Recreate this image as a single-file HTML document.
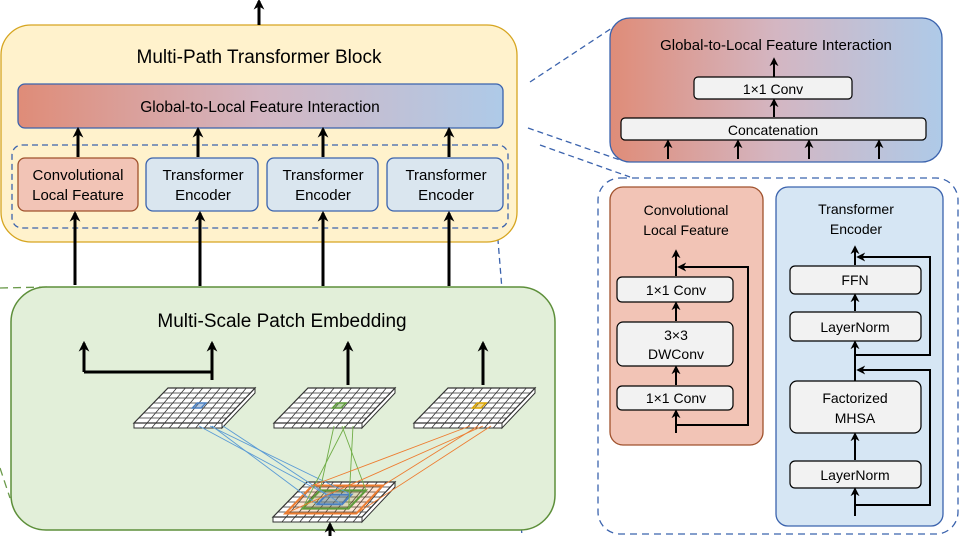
<!DOCTYPE html>
<html><head><meta charset="utf-8"><style>
body{margin:0;background:#fff}
svg{display:block;font-family:"Liberation Sans",sans-serif}
</style></head><body>
<svg id="s" width="963" height="536" viewBox="0 0 963 536" xmlns="http://www.w3.org/2000/svg">
<defs>
<marker id="a" viewBox="0 0 10 10" refX="8" refY="5" markerWidth="3.6" markerHeight="3.6" orient="auto"><path d="M0,0 L10,5 L0,10 L3,5 z" fill="#000"/></marker>
<marker id="b" viewBox="0 0 10 10" refX="8" refY="5" markerWidth="4.5" markerHeight="4.5" orient="auto"><path d="M0,0 L10,5 L0,10 L3,5 z" fill="#000"/></marker>
<linearGradient id="g" x1="0" x2="1"><stop offset="0" stop-color="#df8c78"/><stop offset="0.5" stop-color="#d4b6c2"/><stop offset="1" stop-color="#aecae8"/></linearGradient>
</defs>
<g stroke="#3b63ad" stroke-width="1.3" stroke-dasharray="6,4" fill="none">
<line x1="530" y1="82" x2="612" y2="28"/>
<line x1="528" y1="128" x2="620" y2="160"/>
<line x1="540" y1="145" x2="630" y2="177"/>
<line x1="497" y1="228" x2="522" y2="536"/>
</g>
<g stroke="#6a9a4a" stroke-width="1.3" stroke-dasharray="8,5" fill="none">
<line x1="0" y1="288" x2="48" y2="287"/>
<line x1="0" y1="468" x2="10" y2="498"/>
</g>
<rect x="1" y="25" width="516" height="217" rx="30" fill="#fff2cc" stroke="#d6a520" stroke-width="1.3"/>
<text x="259" y="63" font-size="19" text-anchor="middle">Multi-Path Transformer Block</text>
<rect x="18" y="84" width="485" height="44" rx="7" fill="url(#g)" stroke="#3b63ad" stroke-width="1.3"/>
<text x="260" y="112" font-size="15.5" text-anchor="middle">Global-to-Local Feature Interaction</text>
<rect x="12" y="145" width="496" height="83" rx="10" fill="none" stroke="#3b63ad" stroke-width="1.3" stroke-dasharray="6,4"/>
<rect x="18" y="158" width="120" height="53" rx="7" fill="#f2c4b6" stroke="#a0522d" stroke-width="1.3"/>
<rect x="146" y="158" width="112" height="53" rx="7" fill="#dae6ef" stroke="#3b63ad" stroke-width="1.3"/>
<rect x="267" y="158" width="111" height="53" rx="7" fill="#dae6ef" stroke="#3b63ad" stroke-width="1.3"/>
<rect x="387" y="158" width="116" height="53" rx="7" fill="#dae6ef" stroke="#3b63ad" stroke-width="1.3"/>
<g font-size="15" text-anchor="middle">
<text x="78" y="180">Convolutional</text><text x="78" y="200">Local Feature</text>
<text x="203" y="180">Transformer</text><text x="203" y="200">Encoder</text>
<text x="323" y="180">Transformer</text><text x="323" y="200">Encoder</text>
<text x="446" y="180">Transformer</text><text x="446" y="200">Encoder</text>
</g>
<g stroke="#000" stroke-width="3" fill="none" marker-end="url(#a)">
<line x1="259" y1="25" x2="259" y2="1"/>
<line x1="78" y1="157" x2="78" y2="129"/>
<line x1="198" y1="157" x2="198" y2="129"/>
<line x1="323" y1="157" x2="323" y2="129"/>
<line x1="449" y1="157" x2="449" y2="129"/>
<line x1="75" y1="285" x2="75" y2="213"/>
<line x1="200" y1="286" x2="200" y2="213"/>
<line x1="323" y1="286" x2="323" y2="213"/>
<line x1="449" y1="286" x2="449" y2="213"/>
</g>
<rect x="11" y="287" width="544" height="243" rx="35" fill="#e2efd9" stroke="#5d8f3a" stroke-width="1.5"/>
<text x="282" y="327" font-size="19" text-anchor="middle">Multi-Scale Patch Embedding</text>
<g id="grids"></g>
<g stroke="#000" stroke-width="3" fill="none">
<polyline points="212,380 212,372 84,372" />
<line x1="84" y1="372" x2="84" y2="343" marker-end="url(#a)"/>
<line x1="212" y1="372" x2="212" y2="343" marker-end="url(#a)"/>
<line x1="348" y1="385" x2="348" y2="343" marker-end="url(#a)"/>
<line x1="483" y1="385" x2="483" y2="343" marker-end="url(#a)"/>
<line x1="330" y1="536" x2="330" y2="524" marker-end="url(#a)"/>
</g>
<rect x="610" y="18" width="332" height="144" rx="20" fill="url(#g)" stroke="#3b63ad" stroke-width="1.3"/>
<text x="776" y="50" font-size="15" text-anchor="middle">Global-to-Local Feature Interaction</text>
<rect x="694" y="77" width="158" height="22" rx="4" fill="#f2f2f2" stroke="#000" stroke-width="1.2"/>
<text x="773" y="94" font-size="14" text-anchor="middle">1×1 Conv</text>
<rect x="621" y="118" width="305" height="22" rx="4" fill="#f2f2f2" stroke="#000" stroke-width="1.2"/>
<text x="773" y="135" font-size="14" text-anchor="middle">Concatenation</text>
<g stroke="#000" stroke-width="2" marker-end="url(#b)">
<line x1="774" y1="77" x2="774" y2="59"/>
<line x1="774" y1="117" x2="774" y2="100"/>
<line x1="668" y1="159" x2="668" y2="141"/>
<line x1="738" y1="159" x2="738" y2="141"/>
<line x1="809" y1="159" x2="809" y2="141"/>
<line x1="879" y1="159" x2="879" y2="141"/>
</g>
<rect x="598" y="178" width="360" height="356" rx="22" fill="none" stroke="#3b63ad" stroke-width="1.3" stroke-dasharray="7,5"/>
<rect x="610" y="187" width="153" height="258" rx="13" fill="#f2c4b6" stroke="#a0522d" stroke-width="1.3"/>
<text x="686" y="215" font-size="14" text-anchor="middle">Convolutional</text>
<text x="686" y="235" font-size="14" text-anchor="middle">Local Feature</text>
<g fill="#f2f2f2" stroke="#000" stroke-width="1.2">
<rect x="617" y="277" width="116" height="25" rx="5"/>
<rect x="617" y="322" width="116" height="44" rx="6"/>
<rect x="617" y="386" width="116" height="24" rx="5"/>
</g>
<g font-size="14" text-anchor="middle">
<text x="676" y="295">1×1  Conv</text>
<text x="676" y="340">3×3</text><text x="676" y="359">DWConv</text>
<text x="676" y="403">1×1 Conv</text>
</g>
<g stroke="#000" stroke-width="2" fill="none">
<polyline points="676,425 748,425 748,267 679,267" marker-end="url(#b)"/>
<line x1="676" y1="433" x2="676" y2="411" marker-end="url(#b)"/>
<line x1="676" y1="385" x2="676" y2="367" marker-end="url(#b)"/>
<line x1="676" y1="321" x2="676" y2="303" marker-end="url(#b)"/>
<line x1="676" y1="276" x2="676" y2="251" marker-end="url(#b)"/>
</g>
<rect x="776" y="187" width="167" height="339" rx="12" fill="#d6e6f4" stroke="#3b63ad" stroke-width="1.3"/>
<text x="856" y="214" font-size="14" text-anchor="middle">Transformer</text>
<text x="856" y="234" font-size="14" text-anchor="middle">Encoder</text>
<g fill="#f2f2f2" stroke="#000" stroke-width="1.2">
<rect x="790" y="266" width="131" height="28" rx="5"/>
<rect x="790" y="312" width="131" height="29" rx="5"/>
<rect x="790" y="381" width="131" height="52" rx="7"/>
<rect x="790" y="461" width="131" height="27" rx="5"/>
</g>
<g font-size="14" text-anchor="middle">
<text x="855" y="285">FFN</text>
<text x="855" y="332">LayerNorm</text>
<text x="855" y="403">Factorized</text><text x="855" y="423">MHSA</text>
<text x="855" y="480">LayerNorm</text>
</g>
<g stroke="#000" stroke-width="2" fill="none">
<polyline points="855,505 930,505 930,370 858,370" marker-end="url(#b)"/>
<polyline points="855,355 930,355 930,257 858,257" marker-end="url(#b)"/>
<line x1="855" y1="516" x2="855" y2="489" marker-end="url(#b)"/>
<line x1="855" y1="460" x2="855" y2="434" marker-end="url(#b)"/>
<line x1="855" y1="381" x2="855" y2="342" marker-end="url(#b)"/>
<line x1="855" y1="311" x2="855" y2="295" marker-end="url(#b)"/>
<line x1="855" y1="265" x2="855" y2="247" marker-end="url(#b)"/>
</g>
</svg>
<script>
(function(){
var ns="http://www.w3.org/2000/svg",G=document.getElementById("grids");
function el(t,a){var e=document.createElementNS(ns,t);for(var k in a)e.setAttribute(k,a[k]);G.appendChild(e);return e;}
function lerp(p,q,t){return [p[0]+(q[0]-p[0])*t,p[1]+(q[1]-p[1])*t];}
function grid(tl,tr,br,bl,nc,nr,th){
 el("polygon",{points:[bl,br,[br[0],br[1]+th],[bl[0],bl[1]+th]].map(String).join(" "),fill:"#fff",stroke:"#333","stroke-width":1});
 el("polygon",{points:[tr,br,[br[0],br[1]+th],[tr[0],tr[1]+th]].map(String).join(" "),fill:"#fff",stroke:"#333","stroke-width":1});
 el("polygon",{points:[tl,tr,br,bl].map(String).join(" "),fill:"#fff",stroke:"#333","stroke-width":1.2});
 for(var i=1;i<nc;i++){var a=lerp(tl,tr,i/nc),b=lerp(bl,br,i/nc);el("line",{x1:a[0],y1:a[1],x2:b[0],y2:b[1]+th,stroke:"#333","stroke-width":.8});}
 for(var j=1;j<nr;j++){var a=lerp(tl,bl,j/nr),b=lerp(tr,br,j/nr);el("line",{x1:a[0],y1:a[1],x2:b[0],y2:b[1],stroke:"#333","stroke-width":.8});}
}
function cell(tl,tr,br,bl,nc,nr,c,r,col){
 function P(u,v){var a=lerp(tl,tr,u),b=lerp(bl,br,u);return lerp(a,b,v);}
 el("polygon",{points:[P(c/nc,r/nr),P((c+1)/nc,r/nr),P((c+1)/nc,(r+1)/nr),P(c/nc,(r+1)/nr)].map(String).join(" "),fill:col,"fill-opacity":.4,stroke:col,"stroke-width":1.5});
}
var offs=[0,140,280],cols=["#4a7fc0","#5d9a3a","#d9a300"];
offs.forEach(function(o,i){
 var tl=[168+o,388],tr=[255+o,388],br=[222+o,423],bl=[134+o,423];
 grid(tl,tr,br,bl,10,7,5);
 cell(tl,tr,br,bl,10,7,5,3,cols[i]);
});
var tl=[307,482],tr=[395,482],br=[362,517],bl=[273,517];
grid(tl,tr,br,bl,10,7,5);
function P(u,v){var a=lerp(tl,tr,u),b=lerp(bl,br,u);return lerp(a,b,v);}
function ring(u0,u1,col,fo){el("polygon",{points:[P(u0,u0),P(u1,u0),P(u1,u1),P(u0,u1)].map(String).join(" "),fill:col,"fill-opacity":fo,stroke:col,"stroke-width":2});return [P(u0,u0),P(u1,u0),P(u1,u1),P(u0,u1)];}
var ro=ring(.1,.9,"#ed7d31",.2),rg=ring(.24,.76,"#5d9a3a",.2),rb=ring(.36,.64,"#4a7fc0",.35);
function lines(src,dst,col){for(var i=0;i<4;i++)el("line",{x1:src[i][0],y1:src[i][1],x2:dst[i][0],y2:dst[i][1],stroke:col,"stroke-width":.9});}
lines([[199,426],[210,426],[223,426],[212,426]],rb,"#5b9bd5");
lines([[334,426],[342,426],[353,426],[345,426]],rg,"#70ad47");
lines([[470,426],[478,426],[491,426],[483,426]],ro,"#ed7d31");
})();
</script>
</body></html>
